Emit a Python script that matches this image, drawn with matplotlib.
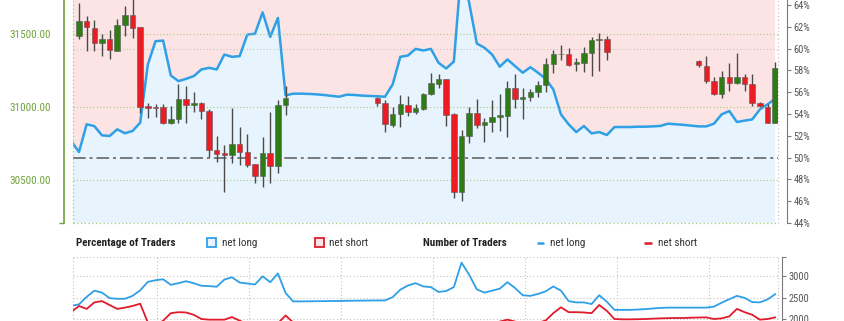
import matplotlib
matplotlib.use("Agg")
import matplotlib.pyplot as plt
import numpy as np
from matplotlib import font_manager
from matplotlib.patches import Rectangle

# ---- data -----------------------------------------------------------------
# line series: one value per time slot, slots -1 .. 91
line_slots = list(range(-1, 92))

pct_long = [
    51.5, 50.51, 53.05, 52.89, 52.04, 51.98, 52.59, 52.23, 52.44, 53.2,
    58.54, 60.67, 60.73, 57.53, 57.01, 57.22, 57.47, 58.08, 58.23, 58.08,
    59.45, 59.24, 59.3, 61.28, 61.35, 63.32, 61.07, 62.81, 55.7, 55.86,
    55.86, 55.84, 55.8, 55.74, 55.66, 55.58, 55.77, 55.74, 55.68, 55.65,
    55.62, 55.58, 56.71, 59.24, 59.36, 59.97, 59.82, 59.97, 58.69, 58.17,
    58.81, 67.5, 64.2, 60.46, 60.07, 59.45, 58.33, 59.0, 58.39, 57.78,
    58.29, 57.78, 57.23, 56.25, 53.96, 53.05, 52.34, 52.89, 52.22, 52.34,
    52.07, 52.8, 52.8, 52.8, 52.83, 52.83, 52.86, 52.9, 53.11, 53.05,
    53.0, 52.93, 52.86, 52.86, 53.11, 53.96, 54.27, 53.26, 53.39, 53.5,
    54.42, 54.88, 55.4,
]

count_long = [
    2305, 2341, 2515, 2659, 2614, 2485, 2470, 2470, 2538, 2667,
    2864, 2902, 2924, 2795, 2833, 2879, 2833, 2773, 2765, 2750,
    2917, 2970, 2848, 2826, 2803, 2992, 2856, 3061, 2606, 2409,
    2410, 2412, 2414, 2416, 2418, 2420, 2424, 2426, 2428, 2430,
    2432, 2432, 2508, 2682, 2780, 2833, 2758, 2742, 2629, 2652,
    2742, 3311, 3030, 2689, 2614, 2659, 2705, 2856, 2720, 2553,
    2538, 2583, 2644, 2758, 2659, 2417, 2386, 2386, 2348, 2553,
    2402, 2212, 2212, 2212, 2220, 2230, 2245, 2258, 2265, 2265,
    2265, 2265, 2265, 2265, 2288, 2379, 2460, 2538, 2492, 2394,
    2386, 2455, 2576,
]

count_short = [
    2165, 2303, 2235, 2386, 2417, 2326, 2235, 2265, 2303, 2356,
    1920, 1850, 1960, 2136, 2159, 2152, 2098, 2000, 1985, 1985,
    1985, 2045, 1962, 1880, 1870, 1870, 1880, 1900, 2083, 1920,
    1880, 1875, 1870, 1870, 1872, 1875, 1878, 1880, 1880, 1880,
    1880, 1860, 1870, 1890, 1900, 1910, 1900, 1890, 1870, 1880,
    1890, 1930, 1910, 1880, 1870, 1890, 1940, 1985, 1940, 1900,
    1890, 1910, 1965, 2136, 2273, 2159, 2159, 2152, 2136, 2326,
    2189, 2000, 1992, 1992, 1995, 2000, 2008, 2015, 2020, 2023,
    2023, 2030, 2035, 2038, 2000, 2015, 2061, 2235, 2159, 2098,
    1985, 2000, 2038,
]

# candles (gaps where the market was closed)
candle_slots = list(range(0, 28)) + list(range(39, 70)) + list(range(81, 92))

opens = [
    31486, 31589, 31543, 31436, 31464, 31386, 31561, 31630, 31546, 31008,
    31003, 30999, 30894, 30921, 31054, 31015, 31027, 30976, 30708, 30689,
    30673, 30747, 30696, 30610, 30532, 30689, 30600, 31015,
    31065, 31031, 30878, 30952, 31015, 30965, 30988, 31088, 31158, 31193,
    30952, 30419, 30803, 30958, 30878, 30901, 30931, 30940, 31129, 31054,
    31072, 31102, 31152, 31295, 31361, 31363, 31293, 31303, 31368, 31459,
    31464,
    31318, 31283, 31181, 31090, 31208, 31163, 31204, 31158, 31031, 31003,
    30894,
]
highs = [
    31710, 31623, 31596, 31498, 31527, 31602, 31691, 31760, 31546, 31031,
    31022, 31020, 31008, 31156, 31145, 31104, 31038, 30988, 30803, 30740,
    30992, 30867, 30817, 30610, 30794, 30969, 31049, 31145,
    31072, 31049, 31003, 31083, 31079, 31022, 31097, 31236, 31225, 31193,
    30962, 30844, 31003, 31054, 30924, 31049, 31090, 31181, 31227, 31133,
    31122, 31181, 31334, 31391, 31425, 31402, 31338, 31413, 31481, 31505,
    31486,
    31322, 31350, 31208, 31247, 31300, 31373, 31227, 31227, 31038, 31020,
    31311,
]
lows = [
    31466, 31386, 31386, 31350, 31327, 31384, 31486, 31471, 30962, 30924,
    30931, 30885, 30885, 30894, 30894, 30965, 30919, 30662, 30624, 30423,
    30617, 30605, 30590, 30480, 30453, 30480, 30553, 30947,
    31008, 30833, 30867, 30863, 30940, 30954, 30979, 31083, 31133, 30872,
    30382, 30359, 30758, 30856, 30764, 30833, 30840, 30794, 30992, 30917,
    31044, 31072, 31106, 31232, 31323, 31283, 31247, 31243, 31213, 31249,
    31322,
    31277, 31167, 31083, 31065, 31113, 31156, 31113, 31008, 30999, 30894,
    30890,
]
closes = [
    31589, 31546, 31436, 31464, 31391, 31561, 31630, 31543, 31003, 30992,
    30997, 30890, 30921, 31054, 31015, 31027, 30974, 30708, 30680, 30673,
    30747, 30696, 30605, 30532, 30689, 30600, 31015, 31061,
    31031, 30885, 30952, 31020, 30965, 30992, 31088, 31163, 31193, 30947,
    30419, 30803, 30958, 30878, 30901, 30935, 30947, 31129, 31054, 31072,
    31102, 31152, 31295, 31361, 31366, 31288, 31307, 31368, 31459, 31463,
    31375,
    31286, 31181, 31088, 31208, 31163, 31204, 31158, 31031, 31008, 30894,
    31270,
]

price_ticks = [30500, 31000, 31500]
pct_ticks = [44, 46, 48, 50, 52, 54, 56, 58, 60, 62, 64]
count_ticks = [2000, 2500, 3000]
day_lines = [10.2, 22.2, 34.25, 46.3, 58.3, 70.3, 82.35]

# ---- style ----------------------------------------------------------------
names = {f.name for f in font_manager.fontManager.ttflist}
FONT = next((n for n in ["Roboto Condensed", "Liberation Sans Narrow", "Roboto"] if n in names), "DejaVu Sans")
plt.rcParams.update({"font.family": [FONT, "DejaVu Sans"], "font.size": 7.5})

BLUE = "#2f9fe6"
RED = "#e01b2c"
CANDLE_GREEN = "#2e7d14"
CANDLE_RED = "#ec1c24"
PINK_BG = "#fce4e5"
BLUE_BG = "#e7f4fd"
GREEN_TXT = "#6fa33b"
GRID_GREEN = "#a9c97c"
GRID_GRAY = "#c4c4c4"
AXIS_GRAY = "#7a7a7a"

W, H = 845, 321
fig = plt.figure(figsize=(W / 100, H / 100), dpi=100)

x_lo, x_hi = -0.784, 91.37

# ---- top panel ------------------------------------------------------------
ax = fig.add_axes([73 / W, 1 - 223 / H, 705 / W, 223 / H])
ax2 = ax.twinx()
ax.set_zorder(ax2.get_zorder() + 1)
ax.patch.set_visible(False)

ax2.set_xlim(x_lo, x_hi)
ax2.set_ylim(44.0, 64.45)
ax2.fill_between(line_slots, pct_long, 0, color=BLUE_BG, lw=0, zorder=1)
ax2.fill_between(line_slots, pct_long, 100, color=PINK_BG, lw=0, zorder=1)
ax2.axhline(60, color=GRID_GRAY, ls=(0, (1, 2)), lw=0.8, zorder=2)
ax2.axhline(50, color="#707070", ls=(0, (7, 2.2, 1.6, 2.2)), lw=1.3, zorder=3)
ax2.plot(line_slots, pct_long, color=BLUE, lw=1.8, zorder=4)

ax.set_xlim(x_lo, x_hi)
ax.set_ylim(30209, 31732)

o = np.array(opens, float)
c = np.array(closes, float)
up = c >= o
body_lo = np.minimum(o, c)
body_h = np.maximum(np.abs(c - o), 4)
ax.vlines(candle_slots, lows, highs, color="#4a4a4a", lw=1.0, zorder=3)
ax.bar(candle_slots, body_h, bottom=body_lo, width=0.72,
       color=[CANDLE_GREEN if u else CANDLE_RED for u in up],
       edgecolor="#5a5a5a", linewidth=0.4, zorder=4)

ax.set_xticks(day_lines)
ax.set_yticks(price_ticks)
ax.set_yticklabels([f"{v:.2f}" for v in price_ticks])
ax.grid(axis="x", color=GRID_GRAY, ls=(0, (1, 2)), lw=0.8)
ax.grid(axis="y", color=GRID_GREEN, ls=(0, (1, 2)), lw=0.8)
ax.set_axisbelow(True)
ax.tick_params(axis="x", length=0, labelbottom=False)
ax.tick_params(axis="y", length=0, pad=9, colors=GREEN_TXT, labelsize=8)
ax.set_yticks([30209], minor=True)
ax.tick_params(axis="y", which="minor", length=3.5, color=GREEN_TXT, width=1)
for s in ["top", "right", "bottom"]:
    ax.spines[s].set_visible(False)
ax.spines["left"].set_position(("outward", 6.8))
ax.spines["left"].set_color(GREEN_TXT)
ax.spines["left"].set_linewidth(1.2)
# dotted plot frame
ax.plot([0, 0], [0, 1], transform=ax.transAxes, color=GRID_GREEN, ls=(0, (1, 2)), lw=0.9, clip_on=False)
ax.plot([0, 1], [0, 0], transform=ax.transAxes, color=GRID_GREEN, ls=(0, (1, 2)), lw=0.9, clip_on=False)
ax.plot([1, 1], [0, 1], transform=ax.transAxes, color=GRID_GRAY, ls=(0, (1, 2)), lw=0.9, clip_on=False)

ax2.set_yticks(pct_ticks)
ax2.set_yticklabels([f"{v}%" for v in pct_ticks])
ax2.tick_params(axis="y", length=3, width=0.8, color=AXIS_GRAY, labelcolor="#555555", pad=2, labelsize=7.5)
for s in ["top", "left", "bottom"]:
    ax2.spines[s].set_visible(False)
ax2.spines["right"].set_position(("outward", 6.3))
ax2.spines["right"].set_color(AXIS_GRAY)
ax2.set_xticks([])

# ---- bottom panel ---------------------------------------------------------
ax3 = fig.add_axes([73 / W, 1 - 340 / H, 705 / W, 83 / H])
ax3.set_xlim(x_lo, x_hi)
ax3.set_ylim(1512, 3442)
ax3.plot(line_slots, count_long, color=BLUE, lw=1.3, zorder=3)
ax3.plot(line_slots, count_short, color=RED, lw=1.3, zorder=3)
ax3.set_xticks(day_lines)
ax3.set_yticks(count_ticks)
ax3.grid(True, color=GRID_GRAY, ls=(0, (1, 2)), lw=0.8)
ax3.set_axisbelow(True)
ax3.tick_params(axis="x", length=0, labelbottom=False)
ax3.yaxis.tick_right()
ax3.tick_params(axis="y", length=3, width=0.8, color=AXIS_GRAY, labelcolor="#555555", pad=2, labelsize=7.5)
ax3.set_yticks([3442], minor=True)
ax3.tick_params(axis="y", which="minor", length=3, width=0.8, color=AXIS_GRAY)
for s in ["top", "left", "bottom"]:
    ax3.spines[s].set_visible(False)
ax3.spines["right"].set_position(("outward", 2.7))
ax3.spines["right"].set_color(AXIS_GRAY)
ax3.plot([0, 1], [1, 1], transform=ax3.transAxes, color=GRID_GRAY, ls=(0, (1, 2)), lw=0.8, clip_on=False)
ax3.plot([0, 0], [0, 1], transform=ax3.transAxes, color=GRID_GRAY, ls=(0, (1, 2)), lw=0.8, clip_on=False)
ax3.plot([1, 1], [0, 1], transform=ax3.transAxes, color=GRID_GRAY, ls=(0, (1, 2)), lw=0.8, clip_on=False)

# ---- legend row -----------------------------------------------------------
lg = fig.add_axes([0, 0, 1, 1])
lg.set_xlim(0, W)
lg.set_ylim(H, 0)
lg.axis("off")
ly = 242.5
lg.text(76, ly, "Percentage of Traders", fontsize=8, fontweight="bold", va="center", color="#222222")
lg.add_patch(Rectangle((207.5, ly - 4.5), 9, 9, facecolor=BLUE_BG, edgecolor=BLUE, lw=1.3))
lg.text(222, ly, "net long", fontsize=8, va="center", color="#333333")
lg.add_patch(Rectangle((315.5, ly - 4.5), 9, 9, facecolor=PINK_BG, edgecolor=RED, lw=1.3))
lg.text(329.5, ly, "net short", fontsize=8, va="center", color="#333333")
lg.text(423.5, ly, "Number of Traders", fontsize=8, fontweight="bold", va="center", color="#222222")
lg.plot([537, 544.5], [ly, ly], color=BLUE, lw=1.8, solid_capstyle="butt")
lg.text(550.5, ly, "net long", fontsize=8, va="center", color="#333333")
lg.plot([644.5, 652], [ly, ly], color=RED, lw=1.8, solid_capstyle="butt")
lg.text(658.5, ly, "net short", fontsize=8, va="center", color="#333333")

fig.savefig("out.png", dpi=100)
plt.close(fig)
